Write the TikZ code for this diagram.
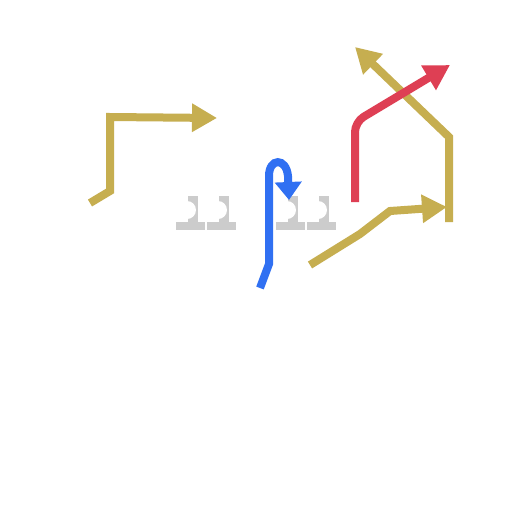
\documentclass[tikz,border=0pt]{standalone}
\usetikzlibrary{arrows.meta}
\definecolor{gold}{HTML}{C6AE50}
\definecolor{redc}{HTML}{DE3F54}
\definecolor{bluec}{HTML}{3070F2}
\definecolor{grayc}{HTML}{CCCCCC}
\tikzset{
  wire/.style={line width=8pt},
  goldwire/.style={wire, draw=gold, -{Triangle[length=25pt,width=27pt]}},
  redwire/.style={wire, draw=redc, rounded corners=10pt, -{Triangle[length=25pt,width=27pt]}},
  bluewire/.style={wire, draw=bluec, -{Triangle[length=18pt,width=26pt]}},
  sym/.pic={
    \fill[grayc] (0,222) rectangle (29,230);
    \fill[grayc] (12,196) rectangle (22,222);
    \fill[white] (11,210) circle (9);
  }
}
\begin{document}
\begin{tikzpicture}[x=1pt,y=-1pt]
\useasboundingbox[fill=white] (0,0) rectangle (512,512);
% gray symbols
\pic at (176,0) {sym};
\pic at (207,0) {sym};
\pic at (276,0) {sym};
\pic at (307,0) {sym};
% coordinates
\coordinate (a0) at (90,203);
\coordinate (a1) at (110,191);
\coordinate (a2) at (110,117);
\coordinate (a3) at (217,118);
\coordinate (b0) at (310,265);
\coordinate (b1) at (360,234);
\coordinate (b2) at (390,211);
\coordinate (b3) at (447,207);
\coordinate (c0) at (449,222);
\coordinate (c1) at (449,137);
\coordinate (c2) at (355,47);
\coordinate (r0) at (355,202);
\coordinate (r1) at (355,122);
\coordinate (r2) at (450,65);
\coordinate (u0) at (260,288);
\coordinate (u1) at (269,264);
\coordinate (u2) at (269,176);
\coordinate (u3) at (289,200);
% connectors
\draw[goldwire] (a0) -- (a1) -- (a2) -- (a3);
\draw[goldwire] (b0) -- (b1) -- (b2) -- (b3);
\draw[goldwire] (c0) -- (c1) -- (c2);
\draw[redwire] (r0) -- (r1) -- (r2);
\draw[bluewire] (u0) -- (u1) -- (u2) .. controls (269,158) and (286,157) .. (288,176) -- (u3);
\end{tikzpicture}
\end{document}
